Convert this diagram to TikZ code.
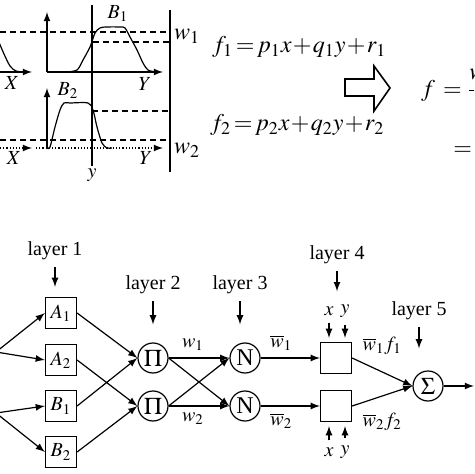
\documentclass[tikz,border=0pt]{standalone}
\usepackage{mathptmx}
\usepackage[no-math]{fontspec}
\setmainfont{Liberation Serif}
\newcommand\tightmath{\medmuskip=1mu\relax\thickmuskip=2mu\relax}
\begin{document}
\begin{tikzpicture}[x=0.5pt,y=-0.5pt,>=latex,semithick]
        \tikzset{unit/.style={draw, minimum size=15.5pt, inner sep=0pt},
                 neuron/.style={draw, circle, minimum size=15pt, inner sep=0pt},
                 dashline/.style={dash pattern=on 3pt off 2pt},
                 formula/.style={font=\fontsize{12}{14}\selectfont\tightmath}}
        \useasboundingbox (0,0) rectangle (474,474);
        \clip (0,0) rectangle (474,474);

        % axes
        \draw[->] (0,72) -- (32,72);
        \draw[->] (47,72) -- (163,72);
        \draw[->] (47,72) -- (47,12);
        \draw[->, densely dotted] (0,148) -- (32,148);
        \draw[->, densely dotted] (36,148) -- (163,148);
        \draw[->] (47,148) -- (47,88);

        % vertical line
        \draw (92,5) -- (92,166);
        \draw (170,10) -- (170,172);

        % membership functions
        \draw plot[smooth] coordinates {(-2,40) (4,54) (10,66) (16,71) (24,72)};
        \draw plot[smooth] coordinates {(66,72) (77,70) (83,60) (90,47) (95,33) (100,28) (106,27) (120,27) (125,28) (130,37) (137,50) (143,63) (148,70) (156,72)};
        \draw plot[smooth] coordinates {(47,148) (50,147) (55,127) (60,110) (64,103) (70,103) (88,103) (93,110) (97,127) (102,143) (107,148) (112,148)};

        % firing levels
        \draw[dashline] (0,32) -- (170,32);
        \draw[dashline] (93,42) -- (170,42);
        \draw[dashline] (92,111) -- (170,111);
        \draw[dashline] (0,140) -- (170,140);

        % axis labels
        \node (xa1) at (12,83) {$X$};
        \node (xa2) at (14,158) {$X$};
        \node (ya1) at (145,84) {$Y$};
        \node (ya2) at (146,158) {$Y$};
        \node (yv) at (92,175) {$y$};
        \node (mb1) at (118,14) {$B_1$};
        \node (mb2) at (68,91) {$B_2$};
        \node[formula] (lw1) at (187,36) {$w_1$};
        \node[formula] (lw2) at (187,150) {$w_2$};

        % rules
        \node[formula, anchor=west] (f1) at (205,47) {$f_1=p_1x+q_1y+r_1$};
        \node[formula, anchor=west] (f2) at (203,125) {$f_2=p_2x+q_2y+r_2$};

        % big arrow
        \draw[thick] (345,79) -- (374,79) -- (374,66) -- (390,88) -- (374,111) -- (374,96) -- (345,96) -- cycle;

        % output formula
        \node[formula, anchor=west] (fsum) at (414,90) {$\displaystyle f\;\;=\;\frac{w_1f_1+w_2f_2}{w_1+w_2}$};
        \node[formula, anchor=west] (fbar) at (446,150) {$=\;\overline{w}_1f_1+\overline{w}_2f_2$};

        % layer 1
        \node[unit] (A1) at (61,313) {$A_1$};
        \node[unit] (A2) at (61,360) {$A_2$};
        \node[unit] (B1) at (61,406) {$B_1$};
        \node[unit] (B2) at (61,452) {$B_2$};

        % inputs
        \coordinate (inx) at (-4,352);
        \coordinate (iny) at (-4,413);
        \draw[->] (inx) -- (A1.west);
        \draw[->] (inx) -- (A2.west);
        \draw[->] (iny) -- (B1.west);
        \draw[->] (iny) -- (B2.west);

        % layer 2
        \node[neuron] (P1) at (153,358) {\large$\Pi$};
        \node[neuron] (P2) at (153,406) {\large$\Pi$};
        \draw[->] (A1.east) -- (P1.west);
        \draw[->] (B1.east) -- (P1.west);
        \draw[->] (A2.east) -- (P2.west);
        \draw[->] (B2.east) -- (P2.west);

        % layer 3
        \node[neuron] (N1) at (245,358) {\large N};
        \node[neuron] (N2) at (245,406) {\large N};
        \draw[->] (P1.east) -- (N1.west) node [pos=0.4,above] {$w_1$};
        \draw[->] (P1.east) -- (N2.west);
        \draw[->] (P2.east) -- (N1.west);
        \draw[->] (P2.east) -- (N2.west) node [pos=0.4,below] {$w_2$};

        % layer 4
        \node[unit] (L1) at (336,358) {};
        \node[unit] (L2) at (336,406) {};
        \draw[->] (N1.east) -- (L1.west) node [pos=0.35,above] {$\overline{w}_1$};
        \draw[->] (N2.east) -- (L2.west) node [pos=0.35,below] {$\overline{w}_2$};

        % layer 5
        \node[neuron] (S) at (428,386) {\large$\Sigma$};
        \coordinate (out) at (474,386);
        \draw[->] (L1.east) -- (S.west) node [midway,above=5pt] {$\overline{w}_1f_1$};
        \draw[->] (L2.east) -- (S.west) node [midway,below=5pt] {$\overline{w}_2f_2$};
        \draw[->] (S) -- (out);

        % x y inputs of layer 4
        \node (xt) at (329,311) {$x$};
        \node (yt) at (345,311) {$y$};
        \node (xb) at (329,452) {$x$};
        \node (yb) at (345,452) {$y$};
        \draw[->, shorten >=2pt] (xt) -- (xt |- L1.north);
        \draw[->, shorten >=2pt] (yt) -- (yt |- L1.north);
        \draw[->, shorten >=2pt] (xb) -- (xb |- L2.south);
        \draw[->, shorten >=2pt] (yb) -- (yb |- L2.south);

        % layer
        \node (l1) at (55,251) {layer 1};
        \node (l2) at (153,285) {layer 2};
        \node (l3) at (240,285) {layer 3};
        \node (l4) at (337,255) {layer 4};
        \node (l5) at (419,311) {layer 5};
        \draw[->, shorten >=5pt] (l1.south) -- (l1.south |- A1.north);
        \draw[->, shorten >=9pt] (l2.south) -- (l2.south |- P1.north);
        \draw[->, shorten >=9pt] (l3.south) -- (l3.south |- N1.north);
        \draw[->, shorten >=4pt] (l4.south) -- (l4.south |- xt.north);
        \draw[->, shorten >=11pt] (l5.south) -- (l5.south |- S.north);
    \end{tikzpicture}
\end{document}
